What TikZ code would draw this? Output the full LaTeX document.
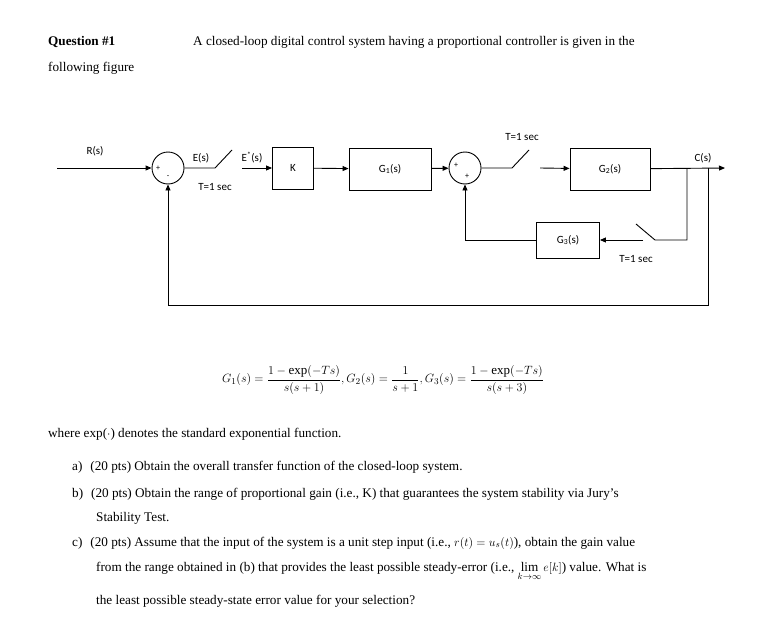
\documentclass[tikz,border=0pt]{standalone}
\usepackage{amsmath}
\usepackage{fontspec}
\setmainfont{Liberation Serif}
\newfontfamily\diafont{Carlito}
\usetikzlibrary{arrows.meta}
\begin{document}
\begin{tikzpicture}[x=1pt,y=-1pt,
  blk/.style={draw,line width=0.9pt,minimum width=#1,minimum height=42,inner sep=0,font=\diafont\fontsize{11}{12}\selectfont},
  sumc/.style={draw,line width=0.9pt,circle,minimum size=32,inner sep=0},
  lab/.style={font=\diafont\fontsize{11}{12}\selectfont,inner sep=0},
  sg/.style={font=\diafont\fontsize{8}{9}\selectfont,inner sep=0},
  ln/.style={line width=0.9pt},
  ar/.style={line width=0.9pt,-{Triangle[length=6pt,width=5pt]}},
  tx/.style={anchor=base west,inner sep=0,font=\fontsize{13.2}{15}\selectfont}]
\useasboundingbox (0,0) rectangle (757,634);
\node[tx,font=\bfseries\fontsize{13.2}{15}\selectfont] (q) at (48,46) {Question \#1};
\node[tx] (t1) at (193,46) {A closed-loop digital control system having a proportional controller is given in the};
\node[tx] (t2) at (48,71) {following figure};
% diagram
\coordinate (rin) at (57,168);
\node[sumc] (s1) at (168,168) {};
\node[sg] at (158,168) {+}; \node[sg] at (168,177) {-};
\coordinate (sw1a) at (215,168); \coordinate (sw1b) at (232,150); \coordinate (sw1c) at (242,168);
\node[blk=41] (k) at (293,168) {K};
\node[blk=82] (g1) at (390,169) {G\textsubscript{1}(s)};
\node[sumc] (s2) at (465,168) {};
\node[sg] at (456,165) {+}; \node[sg] at (467,176) {+};
\coordinate (sw2a) at (512,168); \coordinate (sw2b) at (529,150); \coordinate (sw2c) at (540,168);
\node[blk=80] (g2) at (610,169) {G\textsubscript{2}(s)};
\coordinate (out) at (725,168);
\coordinate (br1) at (687,168); \coordinate (br1d) at (687,240);
\coordinate (sw3a) at (655,240); \coordinate (sw3b) at (636,224); \coordinate (sw3c) at (643,240);
\node[blk=63,minimum height=36] (g3) at (568,240) {G\textsubscript{3}(s)};
\coordinate (br2) at (708,168); \coordinate (fb1) at (708,305); \coordinate (fb2) at (168,305);
\draw[ar] (rin) -- (s1);
\draw[ln] (s1) -- (sw1a) -- (sw1b);
\draw[ar] (sw1c) -- (k);
\draw[ar] (k) -- (g1);
\draw[ar] (g1) -- (s2);
\draw[ln] (s2) -- (sw2a) -- (sw2b);
\draw[ar] (sw2c) -- (g2);
\draw[ar] (g2) -- (out);
\draw[ln] (br1) -- (br1d) -- (sw3a) -- (sw3b);
\draw[ar] (sw3c) -- (g3);
\draw[ar] (g3) -| (s2);
\draw[ar] (br2) -- (fb1) -- (fb2) -- (s1);
\node[lab] at (95,151) {R(s)};
\node[lab] at (201,158) {E(s)};
\node[lab] at (252,158) {E\textsuperscript{*}(s)};
\node[lab] at (215,187) {T=1 sec};
\node[lab] at (522,137) {T=1 sec};
\node[lab] at (703,158) {C(s)};
\node[lab] at (636,259) {T=1 sec};
% equation
\node[inner sep=0,font=\fontsize{13}{15}\selectfont] (eq) at (383,380) {$G_1(s)=\dfrac{1-\exp(-Ts)}{s(s+1)},G_2(s)=\dfrac{1}{s+1},G_3(s)=\dfrac{1-\exp(-Ts)}{s(s+3)}$};
\node[tx] (w) at (48,437) {where exp($\cdot$) denotes the standard exponential function.};
\node[tx] (a) at (72,470) {a)\hspace{8pt}(20 pts) Obtain the overall transfer function of the closed-loop system.};
\node[tx] (b) at (72,497) {b)\hspace{8pt}(20 pts) Obtain the range of proportional gain (i.e., K) that guarantees the system stability via Jury's};
\node[tx] (b2) at (96,521) {Stability Test.};
\node[tx] (c) at (72,546) {c)\hspace{8pt}(20 pts) Assume that the input of the system is a unit step input (i.e., $r(t)=u_s(t)$), obtain the gain value};
\node[tx] (c2) at (96,571) {from the range obtained in (b) that provides the least possible steady-error (i.e., $\lim\limits_{k\to\infty}e[k]$) value. What is};
\node[tx] (c3) at (96,604) {the least possible steady-state error value for your selection?};
\end{tikzpicture}
\end{document}
